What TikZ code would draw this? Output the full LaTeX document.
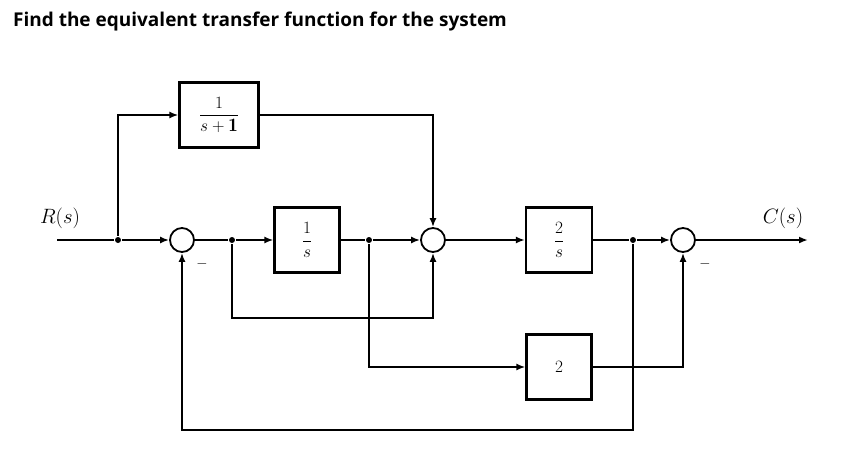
\documentclass[tikz,border=0pt]{standalone}
\usepackage{fontspec}
\newfontfamily\titlefont{Open Sans}[FontFace={sb}{n}{Font=* Semibold}]
\usetikzlibrary{arrows.meta}
\begin{document}
\begin{tikzpicture}[x=1pt,y=-1pt,line width=2.2pt,
  blk/.style={draw,rectangle,minimum width=65pt,minimum height=65pt,inner sep=0pt,font=\fontsize{19}{22}\selectfont},
  sumn/.style={draw,circle,fill=white,minimum size=24pt,inner sep=0pt,line width=1.8pt},
  arr/.style={-{Latex[length=9pt,width=7pt]}},
  dot/.style={circle,fill,inner sep=0pt,minimum size=6pt}]
\useasboundingbox (0,0) rectangle (847,469);
\node[anchor=west,inner sep=0pt,font=\titlefont\bfseries\fontsize{19}{22}\selectfont] (title) at (12,22) {Find the equivalent transfer function for the system};
\coordinate (in) at (57,240);
\node[dot] (j1) at (118,240) {};
\node[sumn] (s1) at (182,240) {};
\node[dot] (j2) at (232,240) {};
\node[blk] (b1) at (307,240) {$\displaystyle\frac{1}{s}$};
\node[dot] (j3) at (369,240) {};
\node[sumn] (s2) at (433,240) {};
\node[blk,minimum width=66pt] (b2) at (559,240) {$\displaystyle\frac{2}{s}$};
\node[dot] (j4) at (633,240) {};
\node[sumn] (s3) at (683,240) {};
\coordinate (out) at (808,240);
\node[blk,minimum width=79pt] (b0) at (219,115) {$\displaystyle\frac{1}{s+\mathbf{1}}$};
\node[blk] (b3) at (559,367) {$2$};
\node[font=\fontsize{22}{26}\selectfont] (R) at (60,218) {$R(s)$};
\node[font=\fontsize{22}{26}\selectfont] (C) at (783,218) {$C(s)$};
\node[font=\Large] (m1) at (202,264) {$-$};
\node[font=\Large] (m3) at (705,264) {$-$};
\draw (in) -- (j1);
\draw[arr] (j1) -- (s1);
\draw (s1) -- (j2);
\draw[arr] (j2) -- (b1);
\draw (b1) -- (j3);
\draw[arr] (j3) -- (s2);
\draw[arr] (s2) -- (b2);
\draw (b2) -- (j4);
\draw[arr] (j4) -- (s3);
\draw[arr] (s3) -- (out);
\draw[arr] (j1) |- (b0);
\draw[arr] (b0.east) -| (s2.north);
\draw[arr] (j2) -- (232,318) -| (s2.south);
\draw[arr] (j3) |- (b3);
\draw[arr] (b3.east) -| (s3.south);
\draw[arr] (j4) -- (633,430) -| (s1.south);
\end{tikzpicture}
\end{document}
